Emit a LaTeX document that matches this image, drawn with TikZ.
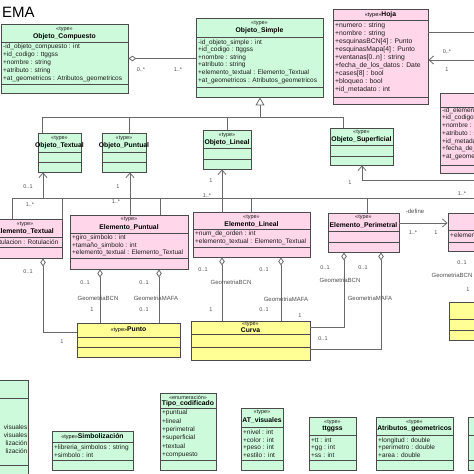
\documentclass[tikz,border=0pt]{standalone}
\usepackage{fontspec}
\setmainfont{Liberation Sans}
\usetikzlibrary{arrows.meta,fit}
\definecolor{gfill}{RGB}{204,250,218}
\definecolor{pfill}{RGB}{255,214,234}
\definecolor{yfill}{RGB}{255,255,150}
\definecolor{bord}{RGB}{75,75,75}
\definecolor{lin}{RGB}{105,105,105}
\definecolor{txt}{RGB}{30,30,30}
\definecolor{lbltxt}{RGB}{80,80,80}
\tikzset{
 boxst/.style={draw=bord, line width=0.9pt, inner sep=0pt},
 divst/.style={draw=bord, line width=0.9pt},
 attr/.style={anchor=west, inner sep=0pt, font=\fontsize{6.5}{7}\selectfont, text=txt},
 attrr/.style={anchor=east, inner sep=0pt, font=\fontsize{6.5}{7}\selectfont, text=txt},
 stereo/.style={inner sep=0pt, font=\fontsize{5.5}{6}\selectfont, text=txt},
 cname/.style={inner sep=0pt, font=\bfseries\fontsize{6.8}{7}\selectfont, text=black},
 conn/.style={draw=lin, line width=0.8pt},
 lbl/.style={inner sep=0pt, font=\fontsize{5.5}{6}\selectfont, text=lbltxt},
 glbl/.style={inner sep=0pt, font=\fontsize{6}{6}\selectfont, text=lbltxt},
 agg/.style={conn, {Diamond[fill=white,length=8pt,width=5.5pt,line width=0.8pt]}-},
 nav/.style={conn, -{Straight Barb[length=4.5pt,width=8pt,line width=0.8pt]}},
 gen/.style={conn, -{Triangle[fill=white,length=8pt,width=9pt,line width=0.8pt]}},
}
\newcommand{\ubox}[6]{\node[boxst, fill=#2, fit={(#3,#4) (#5,#6)}] (#1) {};}
\newcommand{\udiv}[3]{\draw[divst] (#1,#3) -- (#2,#3);}
\newcommand{\attrlist}[6]{\foreach \t [count=\i from 0] in {#6} {\node[#5] (#1-a\i) at (#2, {#3+\i*#4}) {\t};}}
\begin{document}
\begin{tikzpicture}[x=1pt,y=-1pt]
\clip (0,0) rectangle (474,474);
\fill[white] (0,0) rectangle (474,474);

\node[anchor=north west, inner sep=0pt, font=\fontsize{15}{15}\selectfont] (title) at (2,7) {EMA};

% ---------- boxes ----------
\ubox{oc}{gfill}{1}{24}{128}{93} \udiv{1}{128}{42} \udiv{1}{128}{84}
\ubox{os}{gfill}{196}{18}{323}{97} \udiv{196}{323}{37} \udiv{196}{323}{87}
\ubox{hoja}{pfill}{333}{9}{428}{104} \udiv{333}{428}{20} \udiv{333}{428}{97}
\ubox{elem}{pfill}{440}{93}{500}{173} \udiv{440}{500}{107} \udiv{440}{500}{165}
\ubox{ot}{gfill}{38}{133}{81}{172} \udiv{38}{81}{152} \udiv{38}{81}{162}
\ubox{op}{gfill}{102}{133}{146}{172} \udiv{102}{146}{152} \udiv{102}{146}{162}
\ubox{ol}{gfill}{203}{130}{251}{169} \udiv{203}{251}{148} \udiv{203}{251}{159}
\ubox{osu}{gfill}{330}{128}{393}{165} \udiv{330}{393}{145} \udiv{330}{393}{156}
\ubox{et}{pfill}{-12}{219}{62}{258} \udiv{-12}{62}{237} \udiv{-12}{62}{247}
\ubox{ep}{pfill}{70}{215}{188}{269} \udiv{70}{188}{233} \udiv{70}{188}{258}
\ubox{el}{pfill}{193}{212}{310}{257} \udiv{193}{310}{229} \udiv{193}{310}{247}
\ubox{epe}{pfill}{328}{213}{399}{252} \udiv{328}{399}{231} \udiv{328}{399}{242}
\ubox{rb}{pfill}{448}{213}{500}{251} \udiv{448}{500}{230} \udiv{448}{500}{242}
\ubox{pu}{yfill}{77}{323}{180}{357} \udiv{77}{180}{337} \udiv{77}{180}{347}
\ubox{cu}{yfill}{191}{321}{310}{360} \udiv{191}{310}{334} \udiv{191}{310}{347}
\ubox{ry}{yfill}{449}{302}{500}{340} \udiv{449}{500}{319} \udiv{449}{500}{330}
\ubox{bl}{gfill}{-40}{380}{28}{490} \udiv{-40}{28}{398} \udiv{-40}{28}{465}
\ubox{sim}{gfill}{52}{431}{133}{470} \udiv{52}{133}{442} \udiv{52}{133}{460}
\ubox{tc}{gfill}{160}{393}{216}{470} \udiv{160}{216}{408} \udiv{160}{216}{460}
\ubox{atv}{gfill}{241}{408}{283}{470} \udiv{241}{283}{427} \udiv{241}{283}{460}
\ubox{tg}{gfill}{309}{417}{356}{470} \udiv{309}{356}{435} \udiv{309}{356}{460}
\ubox{ag}{gfill}{376}{417}{453}{470} \udiv{376}{453}{435} \udiv{376}{453}{460}
\ubox{rp}{gfill}{468}{417}{500}{470} \udiv{468}{500}{435} \udiv{468}{500}{460}

% ---------- connectors ----------
\draw[agg] (oc.east) -- (oc.east -| os.west);
\coordinate (g0) at (260,117);
\draw[gen] (g0) -- (g0 |- os.south);
\draw[conn] ([xshift=5pt]ot.north west) |- (g0);
\draw[conn] ([xshift=14pt]osu.north west) |- (g0);
\draw[conn] ([xshift=28pt]op.north west) -- ([xshift=28pt]op.north west |- g0);
\draw[conn] (ol.north) -- (ol.north |- g0);

\coordinate (t1) at (12,198);
\coordinate (t2) at (43,198);
\coordinate (p1) at (130,198);
\coordinate (l1) at (222,198);
\coordinate (v2) at (160,198);
\coordinate (v3) at (251,198);
\coordinate (v4) at (367,198);
\coordinate (s0) at (480,180);
\coordinate (s1) at (362,180);
\draw[conn] (t1) -- (t1 -| rb.east);
\draw[conn] (et.north east) -- (et.north east |- t1);
\draw[conn] (v2) -- (v2 |- ep.north);
\draw[conn] (v3) -- (v3 |- el.north);
\draw[conn] (v4) -- (v4 |- epe.north);
\draw[nav] (t1 |- et.north) -- (t1) -- (t2) -- (t2 |- ot.south);
\draw[nav] (p1 |- ep.north) -- (p1 |- op.south);
\draw[nav] (l1 |- el.north) -- (l1 |- ol.south);
\draw[nav] (s0) -- (s1) -- (s1 |- osu.south);

\coordinate (h1) at (480,32);
\coordinate (h2) at (480,60);
\draw[conn] (h1 -| hoja.east) -- (h1);
\draw[nav] (h2) -- (h2 -| hoja.east);

\coordinate (e1) at (43,332);
\draw[agg] (e1 |- et.south) -- (e1) -- (e1 -| pu.west);
\coordinate (q1) at (100,0);
\coordinate (q2) at (159,0);
\draw[agg] (q1 |- ep.south) -- (q1 |- pu.north);
\draw[agg] (q2 |- ep.south) -- (q2 |- pu.north);
\coordinate (k1) at (222,0);
\coordinate (k2) at (281,0);
\draw[agg] (k1 |- el.south) -- (k1 |- cu.north);
\draw[agg] (k2 |- el.south) -- (k2 |- cu.north);
\coordinate (r1) at (344,327);
\coordinate (r2) at (381,349);
\draw[agg] (r1 |- epe.south) -- (r1) -- (r1 -| cu.east);
\draw[agg] (r2 |- epe.south) -- (r2) -- (r2 -| cu.east);
\coordinate (d1) at (0,223);
\draw[nav] (d1 -| epe.east) -- (d1 -| rb.west);

% ---------- class texts ----------
\node[stereo] (oc-s) at (64.5,29.5) {«type»};
\node[cname] (oc-n) at (64.5,36.5) {Objeto\_Compuesto};
\attrlist{oc}{3}{47}{8}{attr}{{-id\_objeto\_compuesto : int},{+id\_codigo : ttggss},{+nombre : string},{+atributo : string},{+at\_geometricos : Atributos\_geometricos}}

\node[stereo] (os-s) at (259.5,23.5) {«type»};
\node[cname] (os-n) at (259.5,31) {Objeto\_Simple};
\attrlist{os}{198}{42.5}{7.6}{attr}{{-id\_objeto\_simple : int},{+id\_codigo : ttggss},{+nombre : string},{+atributo : string},{+elemento\_textual : Elemento\_Textual},{+at\_geometricos : Atributos\_geometricos}}

\node[cname] (hoja-n) at (380.5,15) {{\mdseries\fontsize{5.5}{6}\selectfont «type»}Hoja};
\attrlist{hoja}{335}{25.5}{8.05}{attr,font=\fontsize{6.8}{7}\selectfont}{{+numero : string},{+nombre : string},{+esquinasBCN[4] : Punto},{+esquinasMapa[4] : Punto},{+ventanas[0..n] : string},{+fecha\_de\_los\_datos : Date},{+cases[8] : bool},{+bloqueo : bool},{+id\_metadato : int}}

\attrlist{elem}{442}{110.5}{7.75}{attr}{{-id\_elemento : int},{+id\_codigo : ttggss},{+nombre : string},{+atributo : string},{+id\_metadato : int},{+fecha\_de\_los\_datos : Date},{+at\_geometricos : Atributos\_geometricos}}

\node[stereo] (ot-s) at (59.5,138.5) {«type»};
\node[cname] (ot-n) at (59.5,146) {Objeto\_Textual};
\node[stereo] (op-s) at (124,138.5) {«type»};
\node[cname] (op-n) at (124,146) {Objeto\_Puntual};
\node[stereo] (ol-s) at (227,135.5) {«type»};
\node[cname] (ol-n) at (227,143) {Objeto\_Lineal};
\node[stereo] (osu-s) at (361.5,132.5) {«type»};
\node[cname] (osu-n) at (361.5,140) {Objeto\_Superficial};

\node[stereo] (et-s) at (25,224) {«type»};
\node[cname] (et-n) at (25,231.5) {Elemento\_Textual};
\node[attr] (et-a0) at (-10.5,242) {+rotulacion : Rotulación};

\node[stereo] (ep-s) at (129,219.5) {«type»};
\node[cname] (ep-n) at (129,227) {Elemento\_Puntual};
\attrlist{ep}{72}{238}{7.6}{attr}{{+giro\_simbolo : int},{+tamaño\_simbolo : int},{+elemento\_textual : Elemento\_Textual}}

\node[stereo] (el-s) at (251.5,217) {«type»};
\node[cname] (el-n) at (251.5,224) {Elemento\_Lineal};
\attrlist{el}{195}{233.5}{8}{attr}{{+num\_de\_orden : int},{+elemento\_textual : Elemento\_Textual}}

\node[stereo] (epe-s) at (363.5,217.5) {«type»};
\node[cname] (epe-n) at (363.5,225) {Elemento\_Perimetral};
\node[attr] (rb-a0) at (450,235.5) {+elemento\_textual : Elemento\_Textual};

\node[cname] (pu-n) at (128.5,330) {{\mdseries\fontsize{5.5}{6}\selectfont «type»}Punto};
\node[stereo] (cu-s) at (250.5,324.5) {«type»};
\node[cname] (cu-n) at (250.5,330) {Curva};

\attrlist{bl}{27.5}{427}{8}{attrr}{visuales,visuales,lización,lización}

\node[cname] (sim-n) at (92.5,436.5) {{\mdseries\fontsize{5.5}{6}\selectfont «type»}Simbolización};
\attrlist{sim}{54}{447.5}{7.5}{attr}{{+libreria\_simbolos : string},{+simbolo : int}}

\node[stereo] (tc-s) at (188,397.5) {«enumeración»};
\node[cname] (tc-n) at (188,404) {Tipo\_codificado};
\attrlist{tc}{162}{413}{8.4}{attr}{+puntual,+lineal,+perimetral,+superficial,+textual,+compuesto}

\node[stereo] (atv-s) at (262,412.5) {«type»};
\node[cname] (atv-n) at (262,420.5) {AT\_visuales};
\attrlist{atv}{243}{432.5}{7.5}{attr}{{+nivel : int},{+color : int},{+peso : int},{+estilo : int}}

\node[stereo] (tg-s) at (332.5,422) {«type»};
\node[cname] (tg-n) at (332.5,429) {ttggss};
\attrlist{tg}{311}{440.5}{7.3}{attr}{{+tt : int},{+gg : int},{+ss : int}}

\node[stereo] (ag-s) at (414.5,422) {«type»};
\node[cname] (ag-n) at (414.5,429) {Atributos\_geometricos};
\attrlist{ag}{378}{440.5}{7.3}{attr}{{+longitud : double},{+perimetro : double},{+area : double}}

% ---------- multiplicities and role labels ----------
\node[lbl] (m1) at (141,70) {0..*};
\node[lbl] (m2) at (178,70) {1..*};
\node[lbl] (m3) at (447,52) {0..*};
\node[lbl] (m4) at (447,70) {1};
\node[lbl] (m5) at (28,187) {0..1};
\node[lbl] (m6) at (30,205) {1..*};
\node[lbl] (m7) at (118,187) {1};
\node[lbl] (m8) at (116,202) {1..*};
\node[lbl] (m9) at (211,181) {1};
\node[lbl] (m10) at (207,196) {1..*};
\node[lbl] (m11) at (350,183) {1};
\node[lbl] (m12) at (462,194) {1..*};
\node[lbl] (m13) at (28,272) {0..1};
\node[lbl] (m14) at (62,342) {1};
\node[lbl] (m15) at (85,283) {0..1};
\node[lbl] (m16) at (144,283) {0..1};
\node[glbl] (r1l) at (98,298) {GeometriaBCN};
\node[glbl] (r2l) at (156,298) {GeometriaMAFA};
\node[lbl] (m17) at (92,310) {1};
\node[lbl] (m18) at (144,310) {0..1};
\node[lbl] (m19) at (203,270) {0..1};
\node[lbl] (m20) at (264,270) {0..1};
\node[glbl] (r3l) at (231,282) {GeometriaBCN};
\node[glbl] (r4l) at (286,299) {GeometriaMAFA};
\node[lbl] (m21) at (211,310) {1};
\node[lbl] (m22) at (264,310) {0..1};
\node[lbl] (m23) at (300,316) {1};
\node[lbl] (m24) at (325,268) {0..1};
\node[lbl] (m25) at (363,268) {0..1};
\node[glbl] (r5l) at (340,280) {GeometriaBCN};
\node[glbl] (r6l) at (370,298) {GeometriaMAFA};
\node[lbl] (m26) at (323,339) {0..1};
\node[glbl] (dl) at (415,211) {-define};
\node[lbl] (m27) at (413,233) {1..*};
\node[lbl] (m28) at (436,233) {1};
\node[lbl] (m29) at (462,263) {0..1};
\node[glbl] (r7l) at (452,275) {GeometriaBCN};
\node[lbl] (m30) at (468,290) {1};
\end{tikzpicture}
\end{document}
